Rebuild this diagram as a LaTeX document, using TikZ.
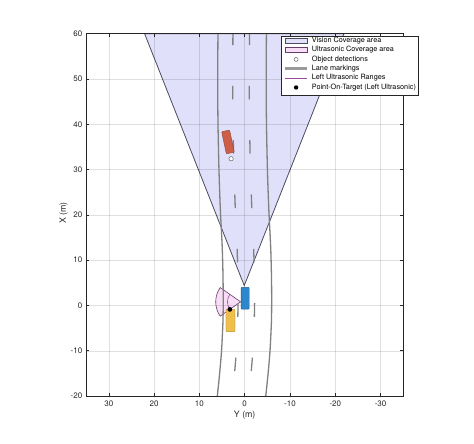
\documentclass[tikz,border=0pt]{standalone}
\usepackage{fontspec}
\setmainfont{TeX Gyre Heros}
\usepackage{xcolor}
\usetikzlibrary{positioning,calc}
\definecolor{visFill}{RGB}{224,224,250}
\definecolor{visEdge}{RGB}{75,75,95}
\definecolor{usFill}{RGB}{247,222,246}
\definecolor{usEdge}{RGB}{105,60,105}
\definecolor{rangeLine}{RGB}{150,75,150}
\definecolor{laneGray}{RGB}{128,128,128}
\definecolor{egoBlue}{RGB}{45,135,205}
\definecolor{leadRed}{RGB}{205,95,72}
\definecolor{sideYellow}{RGB}{240,190,75}
\definecolor{axGray}{RGB}{38,38,38}

\begin{document}
\begin{tikzpicture}[x={(-4.53bp,0)},y={(0,4.53bp)},
  font=\fontsize{8}{9.6}\selectfont,
  gridline/.style={draw=black,draw opacity=0.12,line width=0.5bp},
  axline/.style={draw=axGray,line width=0.6bp},
  laneline/.style={draw=laneGray,line width=1.3bp},
  visarea/.style={fill=visFill,draw=visEdge,line width=0.8bp},
  usarea/.style={fill=usFill,draw=usEdge,line width=0.6bp},
  rangeline/.style={draw=rangeLine,line width=0.6bp},
  carbox/.style={fill=#1,draw=#1!70!black,line width=0.4bp,rounded corners=0.8bp},
  ticklbl/.style={text=axGray,inner sep=0pt},
  lgtext/.style={font=\fontsize{7.3}{8}\selectfont,inner sep=0pt,anchor=west}]
\useasboundingbox (54.02,-30.57) rectangle (-50.62,67.44);
% Y runs to the left, X upwards (metres)
\coordinate (apex) at (0.1,4.4);
\coordinate (usOrg) at (0.9,0.8);
\begin{scope}
\clip (35,-20) rectangle (-35,60);
% vision cone and ultrasonic sector
\draw[visarea] (apex) -- (22.1,60) -- (-21.9,60) -- cycle;
\draw[usarea] (usOrg) -- ++(-35:5.5) arc[start angle=-35,end angle=35,radius=5.5] -- cycle;
% grid
\foreach \v in {30,20,...,-30}
  \draw[gridline] (\v,-20) -- (\v,60);
\foreach \v in {-10,0,...,50}
  \draw[gridline] (35,\v) -- (-35,\v);
% road edges
\foreach \off in {5.35,-5.35}
  \draw[laneline,shift={(\off,0)}] plot[smooth,tension=0.7] coordinates
    {(0.55,60.5) (0.6,47) (0.45,35) (0.1,23) (-0.45,11) (-0.6,0) (-0.4,-7) (0,-13) (0.75,-20.5)};
% lane dashes
\foreach \xa/\ca/\xb/\cb in {60.5/0.55/57.5/0.56,48.5/0.59/45.5/0.58,36.5/0.47/33.5/0.41,
    24.5/0.14/21.5/0.03,12.5/-0.38/9.5/-0.47,0.5/-0.59/-2.5/-0.53,-11.5/-0.1/-14.5/0.15}
  \foreach \off in {2.05,-1.6}
    \draw[laneline] ({\ca+\off},\xa) -- ({\cb+\off},\xb);
% ultrasonic range
\draw[rangeline] (usOrg) ++(-35:2.9) arc[start angle=-35,end angle=35,radius=2.9];
\coordinate (hit) at ($(usOrg)+(-35:2.9)$);
% vehicles
\draw[carbox=egoBlue] (0.8,4.0) rectangle (-1.0,-0.8);
\draw[carbox=sideYellow] (4.13,-0.84) rectangle (2.14,-5.8);
\draw[carbox=leadRed] (5.09,38.36) -- (3.33,38.73) -- (2.29,33.85) -- (4.05,33.47) -- cycle;
\draw[draw=black!60,fill=white,line width=0.5bp] (3.0,32.4) circle[radius=2.2bp];
\fill[black] (hit) circle[radius=2.4bp];
\end{scope}
% axes
\draw[axline] (35,-20) rectangle (-35,60);
\foreach \v in {30,20,...,-30} {
  \draw[axline] (\v,-20) -- ++(0,3bp);
  \draw[axline] (\v,60) -- ++(0,-3bp);
  \node[ticklbl,below=5bp] at (\v,-20) {\v};
}
\foreach \v in {-20,-10,...,60} {
  \draw[axline] (35,\v) -- ++(3bp,0);
  \draw[axline] (-35,\v) -- ++(-3bp,0);
  \node[ticklbl,left=3.7bp] at (35,\v) {\v};
}
\node[text=axGray,font=\fontsize{8.8}{10}\selectfont] (ylbl) at (0,-24.2) {Y (m)};
\node[text=axGray,font=\fontsize{8.8}{10}\selectfont,rotate=90] (xlbl) at (40.0,20.4) {X (m)};
% legend
\draw[fill=white,draw=axGray,line width=0.5bp] (-8.01,59.5) rectangle (-38.3,46.45);
\node[lgtext] (lgVis) at (-14.79,58.45) {Vision Coverage area};
\node[lgtext,below=9.35bp of lgVis.west,anchor=west] (lgUs) {Ultrasonic Coverage area};
\node[lgtext,below=9.35bp of lgUs.west,anchor=west] (lgObj) {Object detections};
\node[lgtext,below=9.35bp of lgObj.west,anchor=west] (lgLane) {Lane markings};
\node[lgtext,below=9.35bp of lgLane.west,anchor=west] (lgRange) {Left Ultrasonic Ranges};
\node[lgtext,below=9.35bp of lgRange.west,anchor=west] (lgHit) {Point-On-Target (Left Ultrasonic)};
\draw[visarea,line width=0.5bp] ($(lgVis.west)+(-26.7bp,-2.5bp)$) rectangle ++(22.3bp,5bp);
\draw[usarea,line width=0.5bp] ($(lgUs.west)+(-26.7bp,-2.5bp)$) rectangle ++(22.3bp,5bp);
\draw[draw=black!60,fill=white,line width=0.5bp] ($(lgObj.west)+(-15.6bp,0)$) circle[radius=2bp];
\fill[laneGray!80] ($(lgLane.west)+(-26.7bp,-1.7bp)$) rectangle ++(22.3bp,3.4bp);
\draw[rangeline] ($(lgRange.west)+(-26.7bp,0)$) -- ++(22.3bp,0);
\fill[black] ($(lgHit.west)+(-15.6bp,0)$) circle[radius=2.2bp];
\end{tikzpicture}
\end{document}
